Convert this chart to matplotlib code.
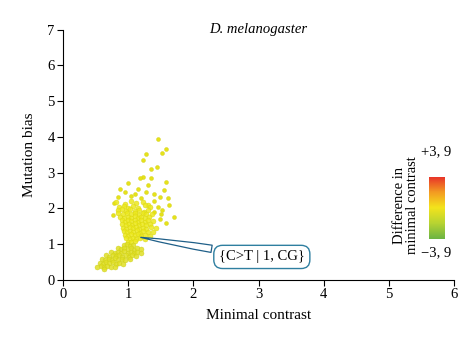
import numpy as np
import matplotlib
matplotlib.use('Agg')
import matplotlib.pyplot as plt
from matplotlib.colors import LinearSegmentedColormap

# dense upper cloud (minimal contrast, mutation bias)
upper_x = [0.82, 0.95, 1.05, 1.12, 1.22, 1.30,
           0.86, 0.93, 1.00, 1.08, 1.15, 1.25, 1.33,
           0.84, 0.90, 0.97, 1.03, 1.10, 1.17, 1.24, 1.30,
           0.85, 0.92, 0.98, 1.04, 1.10, 1.16, 1.22, 1.28, 1.36,
           0.88, 0.94, 1.00, 1.05, 1.10, 1.15, 1.20, 1.26, 1.32,
           0.90, 0.95, 1.00, 1.05, 1.10, 1.15, 1.20, 1.25, 1.30, 1.38,
           0.90, 0.96, 1.01, 1.06, 1.11, 1.16, 1.21, 1.27, 1.33,
           0.92, 0.97, 1.02, 1.07, 1.12, 1.17, 1.22, 1.28, 1.35, 1.42,
           0.93, 0.98, 1.03, 1.08, 1.13, 1.18, 1.23, 1.30, 1.38,
           0.95, 1.00, 1.05, 1.10, 1.15, 1.20, 1.26, 1.33,
           0.97, 1.02, 1.07, 1.12, 1.18, 1.25,
           1.00, 1.05, 1.10]
upper_y = [2.18, 2.12, 2.20, 2.14, 2.17, 2.10,
           2.03, 2.07, 2.01, 2.06, 2.02, 2.08, 2.04,
           1.94, 1.98, 1.92, 1.97, 1.93, 1.96, 1.91, 1.95,
           1.86, 1.83, 1.87, 1.84, 1.88, 1.82, 1.86, 1.83, 1.85,
           1.76, 1.73, 1.77, 1.74, 1.78, 1.72, 1.76, 1.73, 1.75,
           1.66, 1.63, 1.67, 1.64, 1.68, 1.62, 1.66, 1.63, 1.67, 1.64,
           1.56, 1.53, 1.57, 1.54, 1.58, 1.52, 1.56, 1.53, 1.55,
           1.46, 1.43, 1.47, 1.44, 1.48, 1.42, 1.46, 1.43, 1.47, 1.44,
           1.36, 1.33, 1.37, 1.34, 1.38, 1.32, 1.36, 1.33, 1.35,
           1.26, 1.23, 1.27, 1.24, 1.28, 1.22, 1.26, 1.23,
           1.16, 1.13, 1.17, 1.14, 1.18, 1.15,
           1.07, 1.05, 1.08]

# lower cloud
lower_x = [0.93, 0.98, 1.03, 1.08,
           0.84, 0.89, 0.94, 0.99, 1.04, 1.09, 1.14, 1.19,
           0.74, 0.79, 0.84, 0.89, 0.94, 0.99, 1.04, 1.09, 1.14, 1.20,
           0.66, 0.71, 0.76, 0.81, 0.86, 0.91, 0.96, 1.01, 1.06, 1.12,
           0.60, 0.65, 0.70, 0.75, 0.80, 0.85, 0.90, 0.95, 1.02,
           0.56, 0.61, 0.66, 0.71, 0.76, 0.81, 0.86, 0.92,
           0.58, 0.63, 0.68, 0.73, 0.79,
           0.52, 0.63]
lower_y = [0.97, 1.00, 0.95, 0.98,
           0.88, 0.85, 0.89, 0.86, 0.90, 0.84, 0.88, 0.85,
           0.78, 0.75, 0.79, 0.76, 0.80, 0.74, 0.78, 0.75, 0.79, 0.76,
           0.68, 0.65, 0.69, 0.66, 0.70, 0.64, 0.68, 0.65, 0.69, 0.66,
           0.58, 0.55, 0.59, 0.56, 0.60, 0.54, 0.58, 0.55, 0.57,
           0.48, 0.45, 0.49, 0.46, 0.50, 0.44, 0.48, 0.45,
           0.38, 0.35, 0.39, 0.36, 0.37,
           0.35, 0.30]

# scattered points
sparse_x = [1.46, 1.58, 1.52, 1.27, 1.23, 1.44, 1.35, 1.23, 1.18, 1.00,
            1.58, 1.55, 1.61, 1.49, 1.70, 1.58, 0.84, 0.78, 0.77, 1.15,
            1.28, 1.40, 1.10, 1.45, 1.52, 1.40, 1.20, 1.05, 0.95, 1.30,
            1.40, 1.48, 1.50, 1.62, 0.88, 1.35]
sparse_y = [3.95, 3.67, 3.56, 3.53, 3.36, 3.17, 3.10, 2.89, 2.86, 2.72,
            2.75, 2.52, 2.30, 2.33, 1.76, 1.60, 2.32, 2.16, 1.82, 2.55,
            2.45, 2.40, 2.40, 2.05, 1.95, 2.20, 2.30, 2.35, 2.45, 2.65,
            1.90, 1.70, 1.85, 2.10, 2.55, 2.85]

serif = ['Liberation Serif', 'DejaVu Serif']
plt.rcParams['font.family'] = serif

fig = plt.figure(figsize=(4.74, 3.45), dpi=100)
ax = fig.add_axes([0.133, 0.189, 0.825, 0.725])

ax.scatter(sparse_x, sparse_y, s=8, color='#e6e21a', edgecolors='#d2cf10',
           linewidths=0.3, zorder=2)
ax.scatter(upper_x, upper_y, s=13, color='#ece81c', edgecolors='#d6d20e',
           linewidths=0.3, alpha=0.85, zorder=2)
ax.scatter(lower_x, lower_y, s=13, color='#e0df24', edgecolors='#cacc14',
           linewidths=0.3, alpha=0.85, zorder=2)

ax.annotate('{C>T | 1, CG}', xy=(1.15, 1.2), xytext=(3.05, 0.64),
            ha='center', va='center', fontsize=10.5,
            bbox=dict(boxstyle='round,pad=0.35,rounding_size=0.6',
                      fc='white', ec='#2f7fa0', lw=1.0),
            arrowprops=dict(arrowstyle='wedge,tail_width=0.5,shrink_factor=0.7',
                            fc='white', ec='#1f5f88', lw=0.9),
            zorder=3)

ax.set_xlim(0, 6)
ax.set_ylim(0, 7)
ax.set_xticks(range(0, 7))
ax.set_yticks(range(0, 8))
ax.spines['top'].set_visible(False)
ax.spines['right'].set_visible(False)
ax.tick_params(direction='out', length=4, labelsize=10.5, pad=2)
ax.set_xlabel('Minimal contrast', fontsize=11, labelpad=6)
ax.set_ylabel('Mutation bias', fontsize=11, labelpad=8)
ax.text(0.5, 1.0, 'D. melanogaster', transform=ax.transAxes, ha='center',
        va='center', fontsize=10.5, style='italic')

# colour key
cmap = LinearSegmentedColormap.from_list(
    'diff', ['#6db444', '#b8d432', '#f4e41c', '#f39a22', '#e8302a'])
cax = fig.add_axes([0.905, 0.307, 0.032, 0.18])
cax.imshow(np.linspace(0, 1, 100).reshape(-1, 1), aspect='auto',
           cmap=cmap, origin='lower')
cax.set_axis_off()
fig.text(0.921, 0.56, '+3, 9', ha='center', va='center', fontsize=10.5)
fig.text(0.921, 0.267, '\u22123, 9', ha='center', va='center', fontsize=10.5)
fig.text(0.857, 0.405, 'Difference in\nminimal contrast', rotation=90,
         ha='center', va='center', fontsize=10.5, multialignment='center',
         linespacing=1.05)

fig.savefig('out.png', dpi=100)
